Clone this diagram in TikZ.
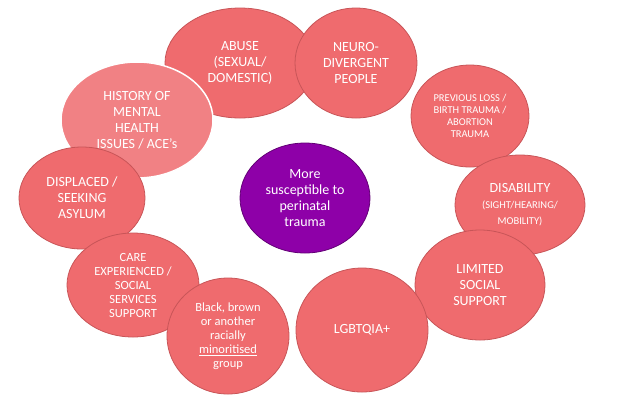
\documentclass[tikz,border=0pt]{standalone}
\usepackage{fontspec}
\setmainfont{Carlito}
\usetikzlibrary{shapes.geometric}
\definecolor{coral}{HTML}{EF6B6E}
\definecolor{edge}{HTML}{C85558}
\definecolor{purp}{HTML}{8E00A8}
\tikzset{
 el/.style={ellipse,draw=edge,line width=0.8pt,fill=coral,text=white,align=center,inner sep=0pt,font=\fontsize{14}{16}\selectfont},
 sm/.style={font=\fontsize{10.5}{12}\selectfont}
}
\begin{document}
\begin{tikzpicture}[x=1pt,y=-1pt]
\useasboundingbox (0,0) rectangle (617,400);
\node[el,minimum width=150,minimum height=110] (abuse) at (240,63) {ABUSE\\(SEXUAL/\\DOMESTIC)};
\node[el,minimum width=122,minimum height=110] (neuro) at (356,63) {NEURO-\\DIVERGENT\\PEOPLE};
\node[el,draw=white,line width=1.5pt,fill=coral!85!white,minimum width=152,minimum height=116] (hist) at (137,120) {HISTORY OF\\MENTAL\\HEALTH\\ISSUES / ACE’s};
\node[el,sm,minimum width=118,minimum height=102] (loss) at (470,116) {PREVIOUS LOSS /\\BIRTH TRAUMA /\\ABORTION\\TRAUMA};
\node[el,minimum width=126,minimum height=102] (disp) at (82,198) {DISPLACED /\\SEEKING\\ASYLUM};
\node[el,minimum width=130,minimum height=100] (dis) at (520,205) {DISABILITY\\{\fontsize{10.5}{13}\selectfont (SIGHT/HEARING/}\\{\fontsize{10.5}{13}\selectfont MOBILITY)}};
\node[el,fill=purp,draw=purp!70!black,minimum width=130,minimum height=110] (c) at (305,198) {More\\susceptible to\\perinatal\\trauma};
\node[el,font=\fontsize{12.5}{14}\selectfont,minimum width=132,minimum height=104] (care) at (133,285) {CARE\\EXPERIENCED /\\SOCIAL\\SERVICES\\SUPPORT};
\node[el,minimum width=130,minimum height=110] (lim) at (480,285) {LIMITED\\SOCIAL\\SUPPORT};
\node[el,minimum width=132,minimum height=124] (lgb) at (362,330) {LGBTQIA+};
\node[el,font=\fontsize{12.5}{14}\selectfont,minimum width=122,minimum height=116] (bb) at (228,336) {Black, brown\\or another\\racially\\\underline{minoritised}\\group};
\end{tikzpicture}
\end{document}
